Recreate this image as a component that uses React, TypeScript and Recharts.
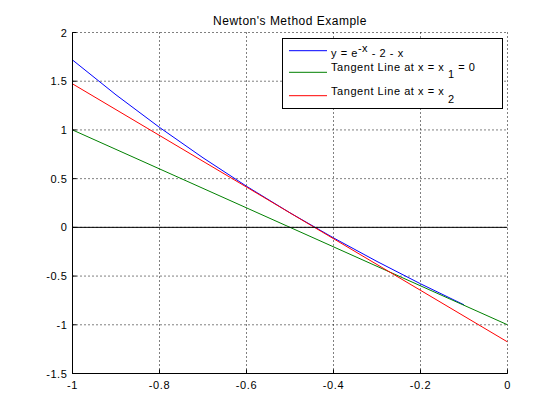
import React from 'react';
import { LineChart, Line, XAxis, YAxis, CartesianGrid } from 'recharts';

// f(x) = e^{-x} - 2 - x
const curveX = [-1, -0.9, -0.8, -0.7, -0.6, -0.5, -0.4, -0.3, -0.2, -0.1];
const curveY = [1.718, 1.36, 1.026, 0.714, 0.422, 0.149, -0.108, -0.35, -0.579, -0.795];
// tangent at x1 = 0 (green)
const tangent1X = [-1, 0];
const tangent1Y = [1, -1];
// tangent at x2 (red)
const tangent2X = [-1, 0];
const tangent2Y = [1.473, -1.176];
// y = 0 reference line (black)
const zeroX = [-1, 0];
const zeroY = [0, 0];

const xTicks = [-1, -0.8, -0.6, -0.4, -0.2, 0];
const yTicks = [-1.5, -1, -0.5, 0, 0.5, 1, 1.5, 2];

const titleText = "Newton's Method Example";

const FONT = '"Liberation Sans", Arial, Helvetica, sans-serif';

const zip = (xs: number[], ys: number[]) => xs.map((x, i) => ({ x, y: ys[i] }));

const curveData = zip(curveX, curveY);
const tangent1Data = zip(tangent1X, tangent1Y);
const tangent2Data = zip(tangent2X, tangent2Y);
const zeroData = zip(zeroX, zeroY);

const TICK_LEN = 4;

const BottomTick = (props: any) => {
  const { x, y, payload } = props;
  return (
    <g>
      <line x1={x} y1={y} x2={x} y2={y - TICK_LEN} stroke="#000" strokeWidth={1} />
      <text x={x} y={y + 15.5} textAnchor="middle" fontSize={11} letterSpacing={0.6} fontFamily={FONT} fill="#000">
        {String(payload.value)}
      </text>
    </g>
  );
};

const TopTick = (props: any) => {
  const { x, y } = props;
  return <line x1={x} y1={y} x2={x} y2={y + TICK_LEN} stroke="#000" strokeWidth={1} />;
};

const LeftTick = (props: any) => {
  const { x, y, payload } = props;
  return (
    <g>
      <line x1={x} y1={y} x2={x + TICK_LEN} y2={y} stroke="#000" strokeWidth={1} />
      <text x={x - 5} y={y + 4} textAnchor="end" fontSize={11} letterSpacing={0.6} fontFamily={FONT} fill="#000">
        {String(payload.value)}
      </text>
    </g>
  );
};

const RightTick = (props: any) => {
  const { x, y } = props;
  return <line x1={x} y1={y} x2={x - TICK_LEN} y2={y} stroke="#000" strokeWidth={1} />;
};

const series = [
  { key: 'curve', data: curveData, color: '#0000ff' },
  { key: 't1', data: tangent1Data, color: '#008000' },
  { key: 't2', data: tangent2Data, color: '#ff0000' },
  { key: 'zero', data: zeroData, color: '#000000' },
];

export default function App() {
  return (
    <div style={{ position: 'absolute', left: 0, top: 0, width: 560, height: 420, background: '#fff' }}>
      <LineChart
        width={560}
        height={420}
        margin={{ top: 32.5, right: 52.5, bottom: 16.5, left: 32.5 }}
      >
        <CartesianGrid
          xAxisId="b"
          yAxisId="l"
          stroke="#000"
          strokeDasharray="1 3"
          strokeWidth={1}
        />
        <XAxis
          xAxisId="b"
          orientation="bottom"
          type="number"
          dataKey="x"
          domain={[-1, 0]}
          ticks={xTicks}
          interval={0}
          allowDataOverflow
          height={30}
          tickSize={0}
          tickMargin={0}
          tickLine={false}
          axisLine={{ stroke: '#000', strokeWidth: 1 }}
          tick={<BottomTick />}
        />
        <XAxis
          xAxisId="t"
          orientation="top"
          type="number"
          dataKey="x"
          domain={[-1, 0]}
          ticks={xTicks}
          interval={0}
          allowDataOverflow
          height={0}
          tickSize={0}
          tickMargin={0}
          tickLine={false}
          axisLine={{ stroke: '#000', strokeWidth: 1 }}
          tick={<TopTick />}
        />
        <YAxis
          yAxisId="l"
          orientation="left"
          type="number"
          domain={[-1.5, 2]}
          ticks={yTicks}
          interval={0}
          allowDataOverflow
          width={40}
          tickSize={0}
          tickMargin={0}
          tickLine={false}
          axisLine={{ stroke: '#000', strokeWidth: 1 }}
          tick={<LeftTick />}
        />
        <YAxis
          yAxisId="r"
          orientation="right"
          type="number"
          domain={[-1.5, 2]}
          ticks={yTicks}
          interval={0}
          allowDataOverflow
          width={0}
          tickSize={0}
          tickMargin={0}
          tickLine={false}
          axisLine={{ stroke: '#000', strokeWidth: 1 }}
          tick={<RightTick />}
        />
        {series.map((s) => (
          <Line
            key={s.key}
            xAxisId="b"
            yAxisId="l"
            data={s.data}
            dataKey="y"
            type="linear"
            stroke={s.color}
            strokeWidth={1}
            dot={false}
            activeDot={false}
            isAnimationActive={false}
          />
        ))}
      </LineChart>
      <svg
        width={560}
        height={420}
        style={{ position: 'absolute', left: 0, top: 0, pointerEvents: 'none' }}
        fontFamily={FONT}
      >
        <text x={290} y={24.5} textAnchor="middle" fontSize={12} letterSpacing={0.5} fill="#000">
          {titleText}
        </text>
        <g transform="translate(282,38)">
          <rect x={0.5} y={0.5} width={220} height={70} fill="#fff" stroke="#000" strokeWidth={1} />
          <line x1={7} x2={45} y1={12.7} y2={12.7} stroke={series[0].color} strokeWidth={1} />
          <text x={49} y={19} fontSize={11} letterSpacing={0.55} fill="#000">
            y = e
            <tspan dy={-5}>-x</tspan>
            <tspan dy={5}> - 2 - x</tspan>
          </text>
          <line x1={7} x2={45} y1={34.3} y2={34.3} stroke={series[1].color} strokeWidth={1} />
          <text x={49} y={33.3} fontSize={11} letterSpacing={0.55} fill="#000">
            Tangent Line at x = x
            <tspan dy={7}> 1</tspan>
            <tspan dy={-7}> = 0</tspan>
          </text>
          <line x1={7} x2={45} y1={57.7} y2={57.7} stroke={series[2].color} strokeWidth={1} />
          <text x={49} y={57.3} fontSize={11} letterSpacing={0.55} fill="#000">
            Tangent Line at x = x
            <tspan dy={8}> 2</tspan>
          </text>
        </g>
      </svg>
    </div>
  );
}
